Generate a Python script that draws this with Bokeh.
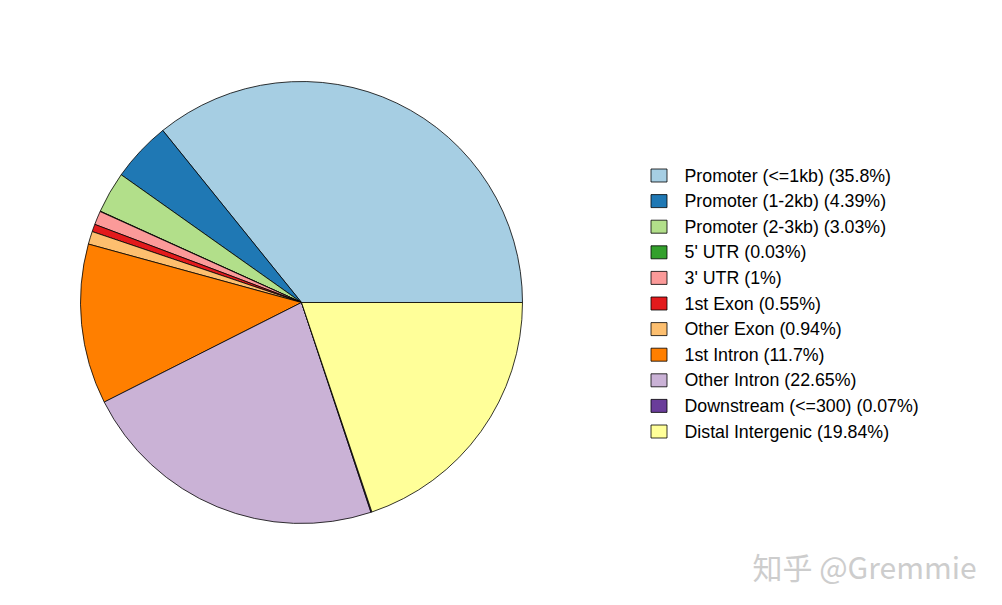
import numpy as np
from bokeh.plotting import figure
from bokeh.models import Range1d, ColumnDataSource
from bokeh.core.properties import value
from bokeh.embed import file_html
from bokeh.resources import INLINE

categories = ["Promoter (<=1kb)", "Promoter (1-2kb)", "Promoter (2-3kb)", "5' UTR", "3' UTR",
              "1st Exon", "Other Exon", "1st Intron", "Other Intron", "Downstream (<=300)",
              "Distal Intergenic"]
percents = [35.8, 4.39, 3.03, 0.03, 1, 0.55, 0.94, 11.7, 22.65, 0.07, 19.84]
labels = ["35.8%", "4.39%", "3.03%", "0.03%", "1%", "0.55%", "0.94%", "11.7%", "22.65%", "0.07%", "19.84%"]
colors = ["#A6CEE3", "#1F78B4", "#B2DF8A", "#33A02C", "#FB9A99", "#E31A1C",
          "#FDBF6F", "#FF7F00", "#CAB2D6", "#6A3D9A", "#FFFF99"]

W, H = 986, 589
p = figure(width=W, height=H, output_backend="svg", toolbar_location=None,
           x_range=Range1d(0, W), y_range=Range1d(605 - H, 605),
           min_border=0)
p.axis.visible = False
p.grid.visible = False
p.outline_line_color = None
p.background_fill_color = "white"

# pie (page coords: center 301,302 ; y up = 605 - page y)
cx, cy, r = 301, 605 - 302, 221
frac = np.array(percents) / sum(percents)
ends = np.cumsum(frac) * 2 * np.pi
starts = np.concatenate([[0], ends[:-1]])
src = ColumnDataSource(dict(start=starts, end=ends, color=colors))
p.wedge(x=cx, y=cy, radius=r, start_angle="start", end_angle="end",
        direction="anticlock", fill_color="color", line_color="black", line_width=0.8, source=src)

# legend
n = len(categories)
y0 = 605 - 175
step = 25.6
ly = [y0 - i * step for i in range(n)]
leg_text = [f"{c} ({l})" for c, l in zip(categories, labels)]
lsrc = ColumnDataSource(dict(x=[658.5] * n, y=ly, tx=[684] * n, t=leg_text, color=colors))
p.rect(x="x", y="y", width=16, height=13, fill_color="color", line_color="black",
       line_width=0.8, source=lsrc)
p.text(x="tx", y="y", text="t", text_font=value("Liberation Sans"), text_font_size="17.8px",
       text_baseline="middle", text_align="left", text_color="black", source=lsrc)

# watermark
p.text(x=[752], y=[605 - 565], text=["知乎 @Gremmie"], text_font=value("Noto Sans CJK SC"),
       text_font_size="30px", text_baseline="middle", text_align="left", text_color="#cdcdcd")

open("out.html", "w").write(file_html(p, INLINE))
